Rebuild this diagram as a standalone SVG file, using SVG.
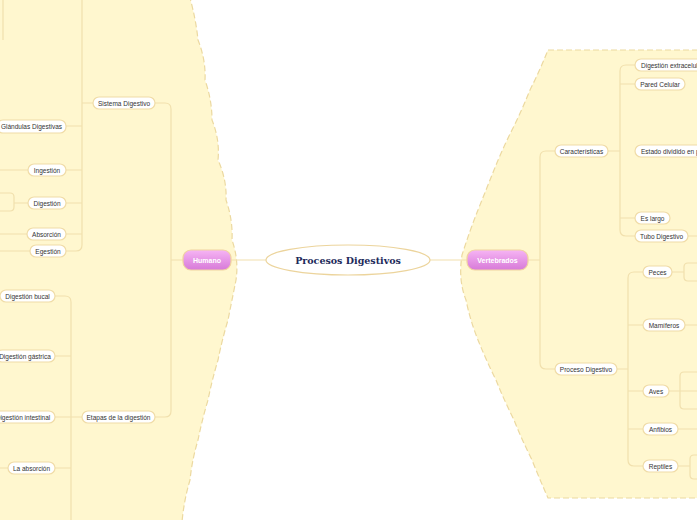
<svg xmlns="http://www.w3.org/2000/svg" width="697" height="520" viewBox="0 0 697 520">
<defs>
<linearGradient id="pill" x1="0" y1="0" x2="0" y2="1"><stop offset="0" stop-color="#f6b4f4"/><stop offset="1" stop-color="#d77ad8"/></linearGradient>
<style>
.blob{fill:#fff7cf;stroke:#ecd9a0;stroke-width:1.2;stroke-dasharray:6 3}
.c{fill:none;stroke:#f1e0ad;stroke-width:1.2}
.n rect{fill:#fff;stroke:#f0dca8;stroke-width:1.2}
.n text{font-family:"Liberation Sans",Arial,sans-serif;font-size:6.5px;fill:#333;text-anchor:middle}
.p rect{fill:url(#pill);stroke:#f0d3a0;stroke-width:1.2}
.p text{font-family:"Liberation Sans",Arial,sans-serif;font-size:7px;fill:#fff;text-anchor:middle;font-weight:bold}
</style>
</defs>
<path class="blob" d="M-2,-2 L190,-2 Q196,20 198,40 Q206,60 205,80 Q212,100 212,120 Q220,140 218,160 Q227,180 226,200 Q233,220 232,240 Q239,260 236,280 Q232,300 228,320 Q222,340 218,360 Q212,380 208,400 Q202,420 198,440 Q192,460 190,480 Q184,500 182,522 L-2,522 Z"/>
<path class="blob" d="M548,50 L699,50 L699,498 L548,498 Q540,480 532,460 Q522,440 514,420 Q504,400 496,380 Q486,360 478,340 Q470,320 466,300 Q458,280 462,255 Q470,230 478,210 Q486,190 494,170 Q502,150 512,130 Q522,110 530,90 Q540,70 548,50 Z"/>
<g id="connectors">
<path class="c" d="M231,260 H266 M430,260 H467"/>
<path class="c" d="M183,260 H171 M155,103 H165 Q171,103 171,109 V411 Q171,417 165,417 H155"/>
<path class="c" d="M93,103 H82 M82,0 V245 Q82,251 76,251 H66 M66,126 H82 M66,170 H82 M66,203 H82 M66,234 H82"/>
<path class="c" d="M3,0 V40 M0,170 H28 M0,193 H10 Q14,193 14,197 V207 Q14,211 10,211 H0 M14,203 H28 M0,234 H27 M0,251 H30"/>
<path class="c" d="M82,417 H71 M55,296 H65 Q71,296 71,302 V520 M55,356 H71 M55,417 H71 M55,468 H71 M0,468 H8"/>
<path class="c" d="M528,260 H540 M555,151 H546 Q540,151 540,157 V363 Q540,369 546,369 H555"/>
<path class="c" d="M608,151 H620 M635,65 H626 Q620,65 620,71 V230 Q620,236 626,236 H635 M635,84 H620 M635,218 H620 M688,236 H697"/>
<path class="c" d="M617,369 H628 M643,272 H634 Q628,272 628,278 V460 Q628,466 634,466 H643 M643,325 H628 M643,391 H628 M643,429 H628"/>
<path class="c" d="M672,272 H684 M697,263 H688 Q684,263 684,267 V277 Q684,281 688,281 H697 M685,325 H697 M669,391 H680 M697,372 H684 Q680,372 680,376 V405 Q680,409 684,409 H697 M680,391 H697 M678,429 H697 M678,466 H690 M697,455 H694 Q690,455 690,459 V475 Q690,479 694,479 H697"/>
</g>
<g id="center"><ellipse cx="348" cy="260" rx="82" ry="15" fill="#fff" stroke="#ecd49c" stroke-width="1.2"/><text x="348" y="263.5" text-anchor="middle" font-family="'DejaVu Serif',serif" font-size="9.5" font-weight="bold" fill="#1d2a5a">Procesos Digestivos</text></g>
<g id="humano" class="p"><rect x="183" y="250" width="48" height="20" rx="8"/><text x="207" y="262.5">Humano</text></g>
<g id="vertebrados" class="p"><rect x="467" y="250" width="61" height="20" rx="8"/><text x="497.5" y="262.5">Vertebrados</text></g>
<g id="sistema" class="n"><rect x="93" y="97" width="62" height="12" rx="6"/><text x="124" y="105.5">Sistema Digestivo</text></g>
<g id="glandulas" class="n"><rect x="-3" y="120" width="69" height="13" rx="6"/><text x="31.5" y="129">Glándulas Digestivas</text></g>
<g id="ingestion" class="n"><rect x="28" y="164" width="38" height="12" rx="6"/><text x="47" y="172.5">Ingestión</text></g>
<g id="digestion" class="n"><rect x="28" y="197" width="38" height="12" rx="6"/><text x="47" y="205.5">Digestión</text></g>
<g id="absorcion" class="n"><rect x="27" y="228" width="39" height="12" rx="6"/><text x="46.5" y="236.5">Absorción</text></g>
<g id="egestion" class="n"><rect x="30" y="245" width="36" height="12" rx="6"/><text x="48" y="253.5">Egestión</text></g>
<g id="etapas" class="n"><rect x="82" y="411" width="73" height="12" rx="6"/><text x="118.5" y="419.5">Etapas de la digestión</text></g>
<g id="bucal" class="n"><rect x="0" y="290" width="55" height="12" rx="6"/><text x="27.5" y="298.5">Digestión bucal</text></g>
<g id="gastrica" class="n"><rect x="-4" y="350" width="59" height="12" rx="6"/><text x="25" y="358.5">Digestión gástrica</text></g>
<g id="intestinal" class="n"><rect x="-8" y="411" width="63" height="12" rx="6"/><text x="23" y="419.5">Digestión intestinal</text></g>
<g id="laabsorcion" class="n"><rect x="8" y="462" width="47" height="12" rx="6"/><text x="31.5" y="470.5">La absorción</text></g>
<g id="caracteristicas" class="n"><rect x="555" y="145" width="53" height="12" rx="6"/><text x="581.5" y="153.5">Características</text></g>
<g id="proceso" class="n"><rect x="555" y="363" width="62" height="12" rx="6"/><text x="586" y="371.5">Proceso Digestivo</text></g>
<g id="extracel" class="n"><rect x="635" y="59" width="70" height="12" rx="6"/><text x="641" y="67.5" style="text-anchor:start">Digestión extracelular</text></g>
<g id="pared" class="n"><rect x="635" y="78" width="50" height="12" rx="6"/><text x="660" y="86.5">Pared Celular</text></g>
<g id="estado" class="n"><rect x="635" y="145" width="70" height="12" rx="6"/><text x="641" y="153.5" style="text-anchor:start">Estado dividido en partes</text></g>
<g id="eslargo" class="n"><rect x="635" y="212" width="35" height="12" rx="6"/><text x="652.5" y="220.5">Es largo</text></g>
<g id="tubo" class="n"><rect x="635" y="230" width="53" height="12" rx="6"/><text x="661.5" y="238.5">Tubo Digestivo</text></g>
<g id="peces" class="n"><rect x="643" y="266" width="29" height="12" rx="6"/><text x="657.5" y="274.5">Peces</text></g>
<g id="mamiferos" class="n"><rect x="643" y="319" width="42" height="12" rx="6"/><text x="664" y="327.5">Mamíferos</text></g>
<g id="aves" class="n"><rect x="643" y="385" width="26" height="12" rx="6"/><text x="656" y="393.5">Aves</text></g>
<g id="anfibios" class="n"><rect x="643" y="423" width="35" height="12" rx="6"/><text x="660.5" y="431.5">Anfibios</text></g>
<g id="reptiles" class="n"><rect x="643" y="460" width="35" height="12" rx="6"/><text x="660.5" y="468.5">Reptiles</text></g>
</svg>
